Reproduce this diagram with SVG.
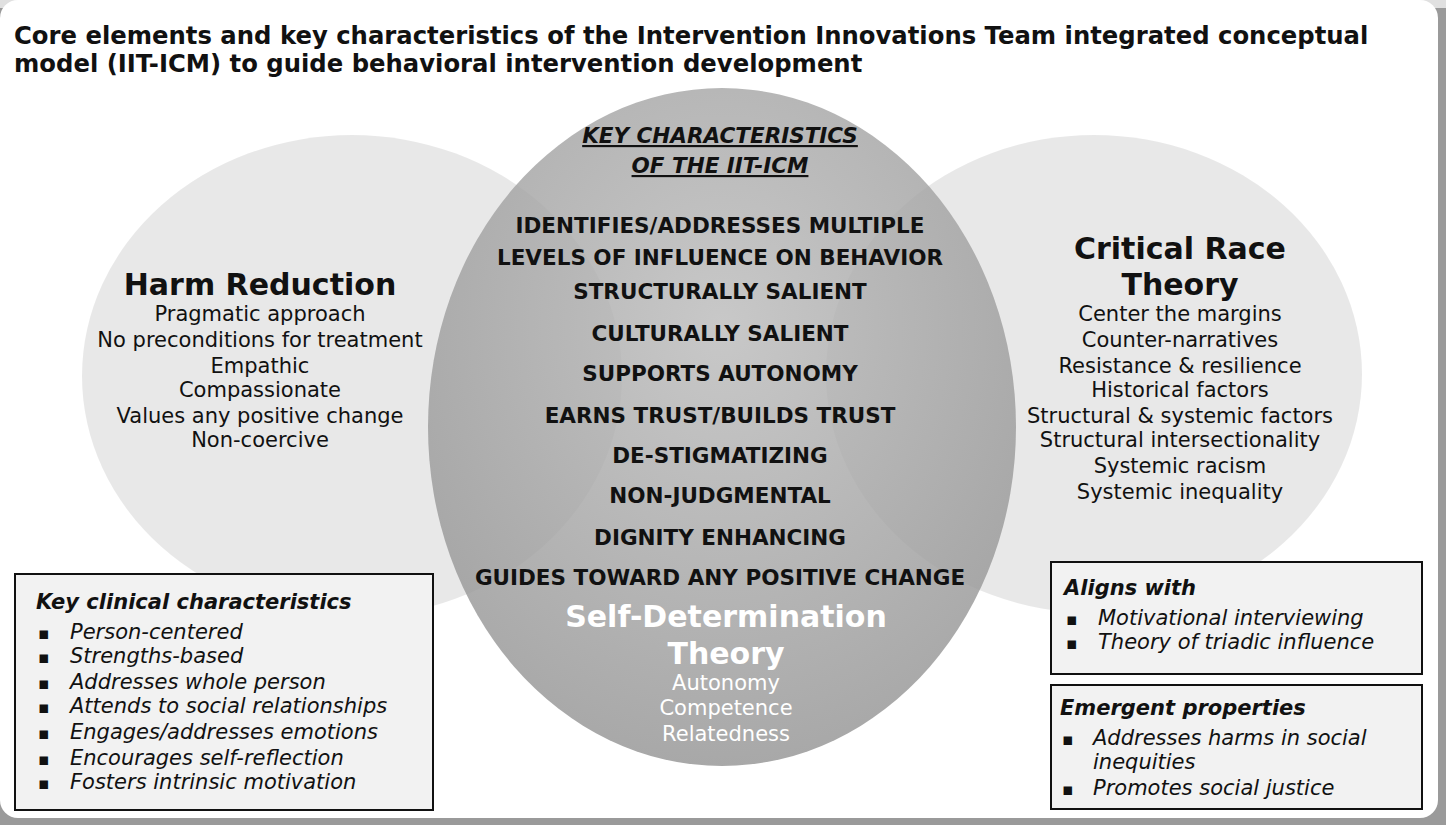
<svg xmlns="http://www.w3.org/2000/svg" width="1446" height="825" viewBox="0 0 1446 825">
<defs>
<style>
.t{font-family:"DejaVu Sans",Verdana,sans-serif;fill:#111}
.h{font-size:30px;font-weight:bold;text-anchor:middle}
.n{font-size:21px;text-anchor:middle}
.k{font-size:21.5px;font-weight:bold;text-anchor:middle}
.i{font-size:21px;font-style:italic}
.w{fill:#fff}
.bx{fill:#f2f2f2;stroke:#111;stroke-width:2}
</style>
<radialGradient id="g" cx="0.5" cy="0.35" r="0.7">
<stop offset="0" stop-color="#bcbcbc"/><stop offset="1" stop-color="#929292"/>
</radialGradient>
</defs>
<rect width="1446" height="825" fill="#9a9a9a"/>
<rect x="0" y="0" width="1446" height="8" fill="#e0e0e0"/>
<rect x="0" y="0" width="1438" height="818" rx="18" fill="#fff"/>
<text class="t" x="14" y="44" font-size="24.3" font-weight="bold">Core elements and key characteristics of the Intervention Innovations Team integrated conceptual</text>
<text class="t" x="14" y="72" font-size="24.3" font-weight="bold">model (IIT-ICM) to guide behavioral intervention development</text>
<g id="harm-reduction">
<ellipse cx="352" cy="376" rx="270" ry="241" fill="#000" fill-opacity="0.09"/>
</g>
<g id="critical-race-theory">
<ellipse cx="1094" cy="374" rx="268" ry="239" fill="#000" fill-opacity="0.09"/>
</g>
<g id="self-determination-theory">
<ellipse cx="722" cy="427" rx="294" ry="339" fill="url(#g)" fill-opacity="0.82"/>
</g>
<g id="labels">
<text class="t h" x="260" y="295">Harm Reduction</text>
<text class="t n" x="260" y="321">Pragmatic approach</text>
<text class="t n" x="260" y="347">No preconditions for treatment</text>
<text class="t n" x="260" y="373">Empathic</text>
<text class="t n" x="260" y="397">Compassionate</text>
<text class="t n" x="260" y="423">Values any positive change</text>
<text class="t n" x="260" y="447">Non-coercive</text>
<text class="t h" x="1180" y="259">Critical Race</text>
<text class="t h" x="1180" y="295">Theory</text>
<text class="t n" x="1180" y="321">Center the margins</text>
<text class="t n" x="1180" y="347">Counter-narratives</text>
<text class="t n" x="1180" y="373">Resistance &amp; resilience</text>
<text class="t n" x="1180" y="397">Historical factors</text>
<text class="t n" x="1180" y="423">Structural &amp; systemic factors</text>
<text class="t n" x="1180" y="447">Structural intersectionality</text>
<text class="t n" x="1180" y="473">Systemic racism</text>
<text class="t n" x="1180" y="499">Systemic inequality</text>
<text class="t k" x="720" y="143" font-style="italic" text-decoration="underline">KEY CHARACTERISTICS</text>
<text class="t k" x="720" y="173" font-style="italic" text-decoration="underline">OF THE IIT-ICM</text>
<text class="t k" x="720" y="233">IDENTIFIES/ADDRESSES MULTIPLE</text>
<text class="t k" x="720" y="265">LEVELS OF INFLUENCE ON BEHAVIOR</text>
<text class="t k" x="720" y="299">STRUCTURALLY SALIENT</text>
<text class="t k" x="720" y="341">CULTURALLY SALIENT</text>
<text class="t k" x="720" y="381">SUPPORTS AUTONOMY</text>
<text class="t k" x="720" y="423">EARNS TRUST/BUILDS TRUST</text>
<text class="t k" x="720" y="463">DE-STIGMATIZING</text>
<text class="t k" x="720" y="503">NON-JUDGMENTAL</text>
<text class="t k" x="720" y="545">DIGNITY ENHANCING</text>
<text class="t k" x="720" y="585">GUIDES TOWARD ANY POSITIVE CHANGE</text>
<text class="t h w" x="726" y="627">Self-Determination</text>
<text class="t h w" x="726" y="664">Theory</text>
<text class="t n w" x="726" y="690">Autonomy</text>
<text class="t n w" x="726" y="715">Competence</text>
<text class="t n w" x="726" y="741">Relatedness</text>
</g>
<g id="key-clinical">
<rect class="bx" x="15" y="574" width="418" height="236"/>
<text class="t i" x="36" y="609" font-weight="bold">Key clinical characteristics</text>
<g class="t" font-size="17">
<text x="38" y="639">▪</text><text class="i" x="70" y="639">Person-centered</text>
<text x="38" y="663">▪</text><text class="i" x="70" y="663">Strengths-based</text>
<text x="38" y="689">▪</text><text class="i" x="70" y="689">Addresses whole person</text>
<text x="38" y="713">▪</text><text class="i" x="70" y="713">Attends to social relationships</text>
<text x="38" y="739">▪</text><text class="i" x="70" y="739">Engages/addresses emotions</text>
<text x="38" y="765">▪</text><text class="i" x="70" y="765">Encourages self-reflection</text>
<text x="38" y="789">▪</text><text class="i" x="70" y="789">Fosters intrinsic motivation</text>
</g>
</g>
<g id="aligns-with">
<rect class="bx" x="1051" y="562" width="371" height="112"/>
<text class="t i" x="1064" y="595" font-weight="bold">Aligns with</text>
<g class="t" font-size="17">
<text x="1066" y="625">▪</text><text class="i" x="1098" y="625">Motivational interviewing</text>
<text x="1066" y="649">▪</text><text class="i" x="1098" y="649">Theory of triadic influence</text>
</g>
</g>
<g id="emergent">
<rect class="bx" x="1051" y="685" width="371" height="124"/>
<text class="t i" x="1060" y="715" font-weight="bold">Emergent properties</text>
<g class="t" font-size="17">
<text x="1062" y="745">▪</text><text class="i" x="1093" y="745">Addresses harms in social</text>
<text class="i" x="1093" y="769">inequities</text>
<text x="1062" y="795">▪</text><text class="i" x="1093" y="795">Promotes social justice</text>
</g>
</g>
<g id="connectors"/>
</svg>
